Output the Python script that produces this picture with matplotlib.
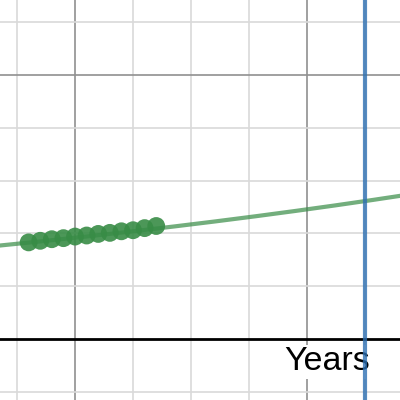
import numpy as np
import matplotlib as mpl
from matplotlib import pyplot as plt

# data
years = [1996, 1997, 1998, 1999, 2000, 2001, 2002, 2003, 2004, 2005, 2006, 2007]
values = [1.83, 1.86, 1.89, 1.91, 1.94, 1.96, 1.99, 2.01, 2.04, 2.06, 2.10, 2.14]

# exponential model drawn through the points: y = fit_a * exp(fit_k * (t - fit_t0))
fit_a = 1.77
fit_k = 0.01235
fit_t0 = 1993.5

marker_year = 2025
axis_label = "Years"

green = '#388c46'
blue = '#2d70b3'

fig = plt.figure(figsize=(4, 4), dpi=100)
ax = fig.add_axes([0, 0, 1, 1])

x0, x1 = 1993.53, 2028.02
y0, y1 = -1.155, 6.42
ax.set_xlim(x0, x1)
ax.set_ylim(y0, y1)

# grid: minor every 5 years / 1 unit, major every 20 years / 5 units
for xv in np.arange(1990, 2030, 5):
    major = xv % 20 == 0
    ax.axvline(xv, color='#909090' if major else '#d9d9d9',
               lw=1.2, zorder=1)
for yv in np.arange(-1, 7, 1):
    if yv == 0:
        continue
    major = yv % 5 == 0
    ax.axhline(yv, color='#909090' if major else '#d9d9d9',
               lw=1.2, zorder=1)
ax.axhline(0, color='black', lw=2.0, zorder=2)

ax.text(2025.45, -0.59, axis_label, ha='right', va='baseline',
        fontsize=24.5, family='Liberation Sans', color='black', zorder=3,
        bbox=dict(facecolor='white', edgecolor='none', pad=1))

t = np.linspace(x0 - 1, x1 + 1, 300)
ax.plot(t, fit_a * np.exp(fit_k * (t - fit_t0)), color=green, lw=3,
        alpha=0.7, zorder=4, solid_capstyle='butt')

ax.scatter(years, values, s=165, color=green, alpha=0.9, edgecolors='none',
           zorder=5)

ax.axvline(marker_year, color=blue, lw=3, alpha=0.8, zorder=6)

ax.set_axis_off()
plt.savefig('out.png', dpi=100)
